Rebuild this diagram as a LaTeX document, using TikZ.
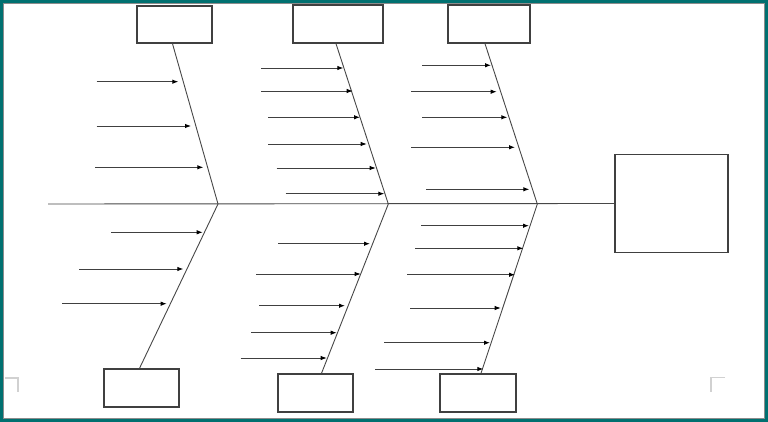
\documentclass[tikz,border=0pt]{standalone}
\usepackage{tikz}
\usetikzlibrary{calc,arrows.meta}
\definecolor{frameteal}{RGB}{0,112,112}
\tikzset{
	catbox/.style={draw=black!75, line width=1.1pt, inner sep=0pt, fill=white},
	bone/.style={line width=0.9pt, color=black!72},
	cause/.style={line width=0.9pt, color=black!75, -{Latex[length=6pt,width=4.5pt,black]}},
	cropmark/.style={line width=1.2pt, color=black!18}
}

\begin{document}
\begin{tikzpicture}[x=1pt, y=-1pt]
			%%%%% START %%%%%
			\useasboundingbox (0, 0) rectangle (768, 422);
			\fill[white] (0, 0) rectangle (768, 422);
			
			% boxes
			\node[catbox, minimum width=75, minimum height=37] (b1) at (174.5, 24.5) {};
			\node[catbox, minimum width=90, minimum height=38] (b2) at (338, 24) {};
			\node[catbox, minimum width=82, minimum height=38] (b3) at (489, 24) {};
			\node[catbox, minimum width=75, minimum height=38] (b4) at (141.5, 388) {};
			\node[catbox, minimum width=75, minimum height=38] (b5) at (315.5, 393) {};
			\node[catbox, minimum width=76, minimum height=38] (b6) at (478, 393) {};
			\node[catbox, minimum width=113, minimum height=98] (effect) at (671.5, 203.5) {};
			
			% spine
			\coordinate (tail) at (48, 204);
			\draw[bone] (tail) -- (effect.west);
			
			% bones
			\coordinate (j1) at (218, 204);
			\coordinate (j2) at (388.3, 204);
			\coordinate (j3) at (537.3, 204);
			\draw[bone] ($(b1.south west)+(36, 0)$) -- (j1) -- ($(b4.north west)+(36, 0)$);
			\draw[bone] ($(b2.south west)+(43.5, 0)$) -- (j2) -- ($(b5.north west)+(44, 0)$);
			\draw[bone] ($(b3.south west)+(37.5, 0)$) -- (j3) -- ($(b6.north west)+(41.5, 0)$);
			
			% causes, upper row
			\foreach \y/\xa/\xb [count=\i] in {81.7/96.7/178.3, 126/96.7/191, 167.3/95/203.3}{
				\coordinate (ua\i) at (\xa, \y);
				\coordinate (ub\i) at (\xb, \y);
				\draw[cause] (ua\i) -- (ub\i);
			}
			\foreach \y/\xa/\xb [count=\i] in {68/261/343.3, 91/261/352.7, 117.3/268.3/360,
				144/268.3/366.7, 168/276.7/375.7, 193.7/285.7/384.3}{
				\coordinate (va\i) at (\xa, \y);
				\coordinate (vb\i) at (\xb, \y);
				\draw[cause] (va\i) -- (vb\i);
			}
			\foreach \y/\xa/\xb [count=\i] in {65.3/422.3/491, 91.7/411/496.7, 117.3/422.3/507.3,
				147.3/411/515, 189.3/426/529.3}{
				\coordinate (wa\i) at (\xa, \y);
				\coordinate (wb\i) at (\xb, \y);
				\draw[cause] (wa\i) -- (wb\i);
			}
			
			% causes, lower row
			\foreach \y/\xa/\xb [count=\i] in {232.3/111/202.7, 269/79/183.3, 303.7/62/166.7}{
				\coordinate (la\i) at (\xa, \y);
				\coordinate (lb\i) at (\xb, \y);
				\draw[cause] (la\i) -- (lb\i);
			}
			\foreach \y/\xa/\xb [count=\i] in {243.7/278.3/370, 274/256/360.7, 305.7/259.3/345,
				332.7/251/336.7, 358/240.7/326.7}{
				\coordinate (ma\i) at (\xa, \y);
				\coordinate (mb\i) at (\xb, \y);
				\draw[cause] (ma\i) -- (mb\i);
			}
			\foreach \y/\xa/\xb [count=\i] in {225.7/421/529, 248.3/415.3/523.3, 274.7/407.3/515,
				308/410/500.7, 342.7/384/490, 369/375.3/483.3}{
				\coordinate (na\i) at (\xa, \y);
				\coordinate (nb\i) at (\xb, \y);
				\draw[cause] (na\i) -- (nb\i);
			}
			
			% page corners
			\draw[cropmark] (5, 378) -- (18, 378) -- (18, 392);
			\draw[cropmark] (725, 377.5) -- (711, 377.5) -- (711, 392);
			
			% frame
			\draw[line width=0.6pt, color=black!45] (3.3, 3.3) rectangle (764.7, 418.7);
			\draw[line width=3pt, color=frameteal] (1.5, 1.5) rectangle (766.5, 420.5);
			%%%%% END %%%%%
		\end{tikzpicture}
\end{document}
